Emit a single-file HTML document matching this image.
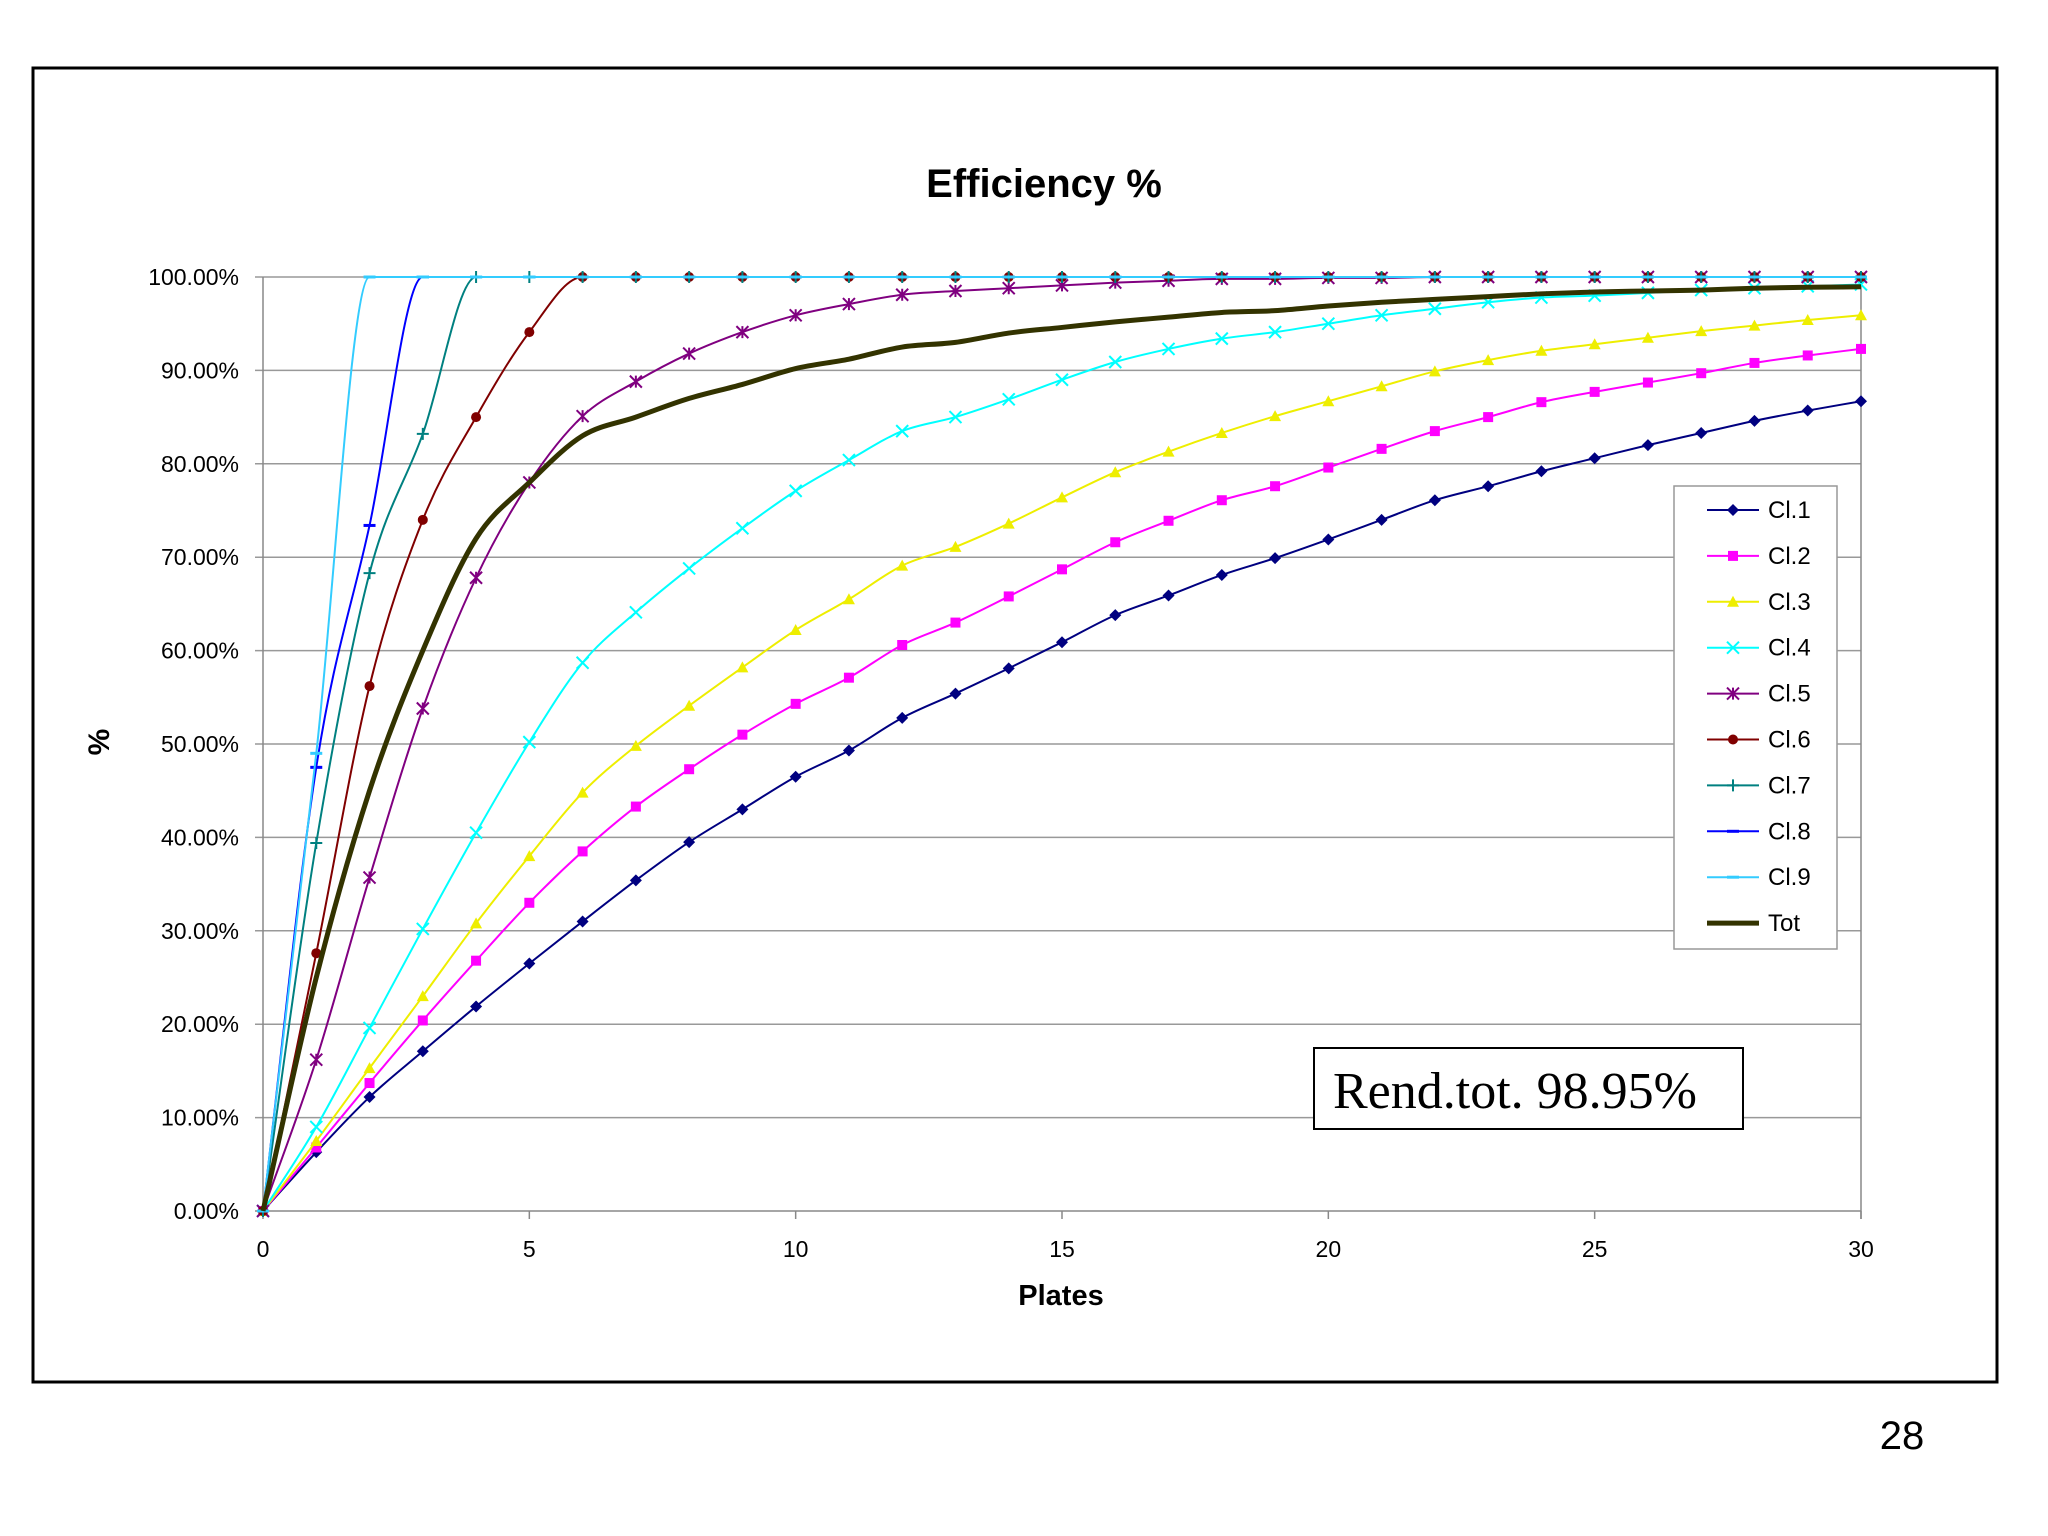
<!DOCTYPE html>
<html><head><meta charset="utf-8"><style>
body{margin:0;background:#fff;}
svg{display:block;font-family:"Liberation Sans",sans-serif;}
</style></head><body>
<svg id="chart" width="2048" height="1536" viewBox="0 0 2048 1536" xmlns="http://www.w3.org/2000/svg">
<rect x="33" y="68" width="1964" height="1314" fill="#fff" stroke="#000" stroke-width="3"/>
<text x="1044" y="197" font-size="40" font-weight="bold" text-anchor="middle">Efficiency %</text>
<text transform="translate(109,742) rotate(-90)" font-size="30" font-weight="bold" text-anchor="middle">%</text>
<text x="1061" y="1305" font-size="29" font-weight="bold" text-anchor="middle">Plates</text>
<g id="grid"></g><g id="series"></g>
<g id="legend"><rect x="1674" y="486" width="163" height="463" fill="#fff" stroke="#999" stroke-width="1.5"/></g>
<rect x="1314" y="1048" width="429" height="81" fill="#fff" stroke="#000" stroke-width="2"/>
<text x="1333" y="1108" font-size="52" font-family="'Liberation Serif',serif">Rend.tot. 98.95%</text>
<text x="1902" y="1449" font-size="40" text-anchor="middle">28</text>
</svg>
<script>
const plates=[0,1,2,3,4,5,6,7,8,9,10,11,12,13,14,15,16,17,18,19,20,21,22,23,24,25,26,27,28,29,30];
const yTicks=[0,10,20,30,40,50,60,70,80,90,100];
const xTicks=[0,5,10,15,20,25,30];
const seriesNames=["Cl.1","Cl.2","Cl.3","Cl.4","Cl.5","Cl.6","Cl.7","Cl.8","Cl.9","Tot"];
const cl1=[0,6.3,12.2,17.1,21.9,26.5,31,35.4,39.5,43,46.5,49.3,52.8,55.4,58.1,60.9,63.8,65.9,68.1,69.9,71.9,74,76.1,77.6,79.2,80.6,82,83.3,84.6,85.7,86.7];
const cl2=[0,6.8,13.7,20.4,26.8,33,38.5,43.3,47.3,51,54.3,57.1,60.6,63,65.8,68.7,71.6,73.9,76.1,77.6,79.6,81.6,83.5,85,86.6,87.7,88.7,89.7,90.8,91.6,92.3];
const cl3=[0,7.5,15.3,23,30.8,38,44.8,49.8,54.1,58.2,62.2,65.5,69.1,71.1,73.6,76.4,79.1,81.3,83.3,85.1,86.7,88.3,89.9,91.1,92.1,92.8,93.5,94.2,94.8,95.4,95.9];
const cl4=[0,9,19.6,30.2,40.5,50.2,58.7,64.1,68.8,73.1,77.1,80.4,83.5,85,86.9,89,90.9,92.3,93.4,94.1,95,95.9,96.6,97.3,97.8,98,98.3,98.6,98.8,99,99.2];
const cl5=[0,16.2,35.7,53.8,67.8,78,85.1,88.8,91.8,94.1,95.9,97.1,98.1,98.5,98.8,99.1,99.4,99.6,99.8,99.8,99.9,99.9,100,100,100,100,100,100,100,100,100];
const cl6=[0,27.6,56.2,74,85,94.1,100,100,100,100,100,100,100,100,100,100,100,100,100,100,100,100,100,100,100,100,100,100,100,100,100];
const cl7=[0,39.4,68.3,83.2,100,100,100,100,100,100,100,100,100,100,100,100,100,100,100,100,100,100,100,100,100,100,100,100,100,100,100];
const cl8=[0,47.5,73.4,100,100,100,100,100,100,100,100,100,100,100,100,100,100,100,100,100,100,100,100,100,100,100,100,100,100,100,100];
const cl9=[0,49,100,100,100,100,100,100,100,100,100,100,100,100,100,100,100,100,100,100,100,100,100,100,100,100,100,100,100,100,100];
const tot=[0,25,45,60,72,78,83,85,87,88.5,90.2,91.2,92.5,93,94,94.6,95.2,95.7,96.2,96.4,96.9,97.3,97.6,97.9,98.2,98.4,98.5,98.6,98.8,98.9,98.95];
const seriesValues=[cl1,cl2,cl3,cl4,cl5,cl6,cl7,cl8,cl9,tot];
const colors=["#000080","#FF00FF","#EEEE00","#00FFFF","#800080","#800000","#008080","#0000FF","#33CCFF","#333300"];
const markers=["diamond","square","triangle","x","star","circle","plus","dash","dash","none"];
const NS="http://www.w3.org/2000/svg";
const L=263,R=1861,T=277,B=1211;
const xs=v=>L+(v-0)/(30-0)*(R-L);
const ys=v=>B-(v/100)*(B-T);
function mk(tag,attrs,parent){const e=document.createElementNS(NS,tag);for(const k in attrs)e.setAttribute(k,attrs[k]);parent.appendChild(e);return e;}
const grid=document.getElementById('grid');
yTicks.forEach(t=>{
 const l=mk('line',{x1:L-8,x2:R,y1:ys(t),y2:ys(t),stroke:t===0?'#888':'#999','stroke-width':1.5},grid);
 
 
 const tx=mk('text',{x:L-24,y:ys(t)+8,'font-size':23,'text-anchor':'end'},grid);
 tx.textContent=t.toFixed(2)+'%';
 
 
});
const ax=mk('line',{x1:L,x2:L,y1:T,y2:B,stroke:'#888','stroke-width':1.5},grid);


const rx=mk('line',{x1:R,x2:R,y1:T,y2:B+8,stroke:'#888','stroke-width':1.5},grid);


xTicks.forEach(t=>{
 const l=mk('line',{x1:xs(t),x2:xs(t),y1:B,y2:B+8,stroke:'#888','stroke-width':1.5},grid);
 
 
 const tx=mk('text',{x:xs(t),y:B+46,'font-size':23,'text-anchor':'middle'},grid);
 tx.textContent=t;
 
 
});
function pathD(pts){
 const n=pts.length,d=[],m=new Array(n);
 for(let i=0;i<n-1;i++)d.push((pts[i+1][1]-pts[i][1])/(pts[i+1][0]-pts[i][0]));
 m[0]=d[0];m[n-1]=d[n-2];
 for(let i=1;i<n-1;i++)m[i]=(d[i-1]*d[i]<=0)?0:(d[i-1]+d[i])/2;
 for(let i=0;i<n-1;i++){if(d[i]===0){m[i]=0;m[i+1]=0;continue;}const a=m[i]/d[i],b=m[i+1]/d[i],s=a*a+b*b;if(s>9){const t=3/Math.sqrt(s);m[i]=t*a*d[i];m[i+1]=t*b*d[i];}}
 let p=`M${pts[0][0]},${pts[0][1]}`;
 for(let i=0;i<n-1;i++){const h=(pts[i+1][0]-pts[i][0])/3;p+=` C${pts[i][0]+h},${pts[i][1]+m[i]*h} ${pts[i+1][0]-h},${pts[i+1][1]-m[i+1]*h} ${pts[i+1][0]},${pts[i+1][1]}`;}
 return p;
}
function drawMarker(type,x,y,c,g){
 const s=6;let e;
 if(type==='diamond')e=mk('polygon',{points:`${x},${y-s} ${x+s},${y} ${x},${y+s} ${x-s},${y}`,fill:c},g);
 else if(type==='square')e=mk('rect',{x:x-5,y:y-5,width:10,height:10,fill:c},g);
 else if(type==='triangle')e=mk('polygon',{points:`${x},${y-s} ${x+s},${y+s-1} ${x-s},${y+s-1}`,fill:c},g);
 else if(type==='circle')e=mk('circle',{cx:x,cy:y,r:5,fill:c},g);
 else if(type==='x')e=mk('path',{d:`M${x-s},${y-s}L${x+s},${y+s}M${x-s},${y+s}L${x+s},${y-s}`,stroke:c,'stroke-width':2,fill:'none'},g);
 else if(type==='star')e=mk('path',{d:`M${x-s},${y-s}L${x+s},${y+s}M${x-s},${y+s}L${x+s},${y-s}M${x},${y-s}L${x},${y+s}`,stroke:c,'stroke-width':2,fill:'none'},g);
 else if(type==='plus')e=mk('path',{d:`M${x-s},${y}L${x+s},${y}M${x},${y-s}L${x},${y+s}`,stroke:c,'stroke-width':2,fill:'none'},g);
 else if(type==='dash')e=mk('path',{d:`M${x-s},${y}L${x+s},${y}`,stroke:c,'stroke-width':3,fill:'none'},g);
 return e;
}
const sg=document.getElementById('series');
seriesValues.forEach((vals,i)=>{
 const g=mk('g',{},sg);
 
 
 const pts=vals.map((v,j)=>[xs(plates[j]),ys(v)]);
 const p=mk('path',{d:pathD(pts),fill:'none',stroke:colors[i],'stroke-width':i===9?5:2},g);
 
 
 if(markers[i]!=='none')pts.forEach(pt=>{const m=drawMarker(markers[i],pt[0],pt[1],colors[i],g);
  
  });
});
const lg=document.getElementById('legend');
seriesNames.forEach((n,i)=>{
 const y=510+i*45.9;
 const g=mk('g',{},lg);
 
 
 mk('line',{x1:1707,x2:1759,y1:y,y2:y,stroke:colors[i],'stroke-width':i===9?5:2},g);
 if(markers[i]!=='none')drawMarker(markers[i],1733,y,colors[i],g);
 const t=mk('text',{x:1768,y:y+8,'font-size':24},g);
 t.textContent=n;
});
</script>
</body></html>
